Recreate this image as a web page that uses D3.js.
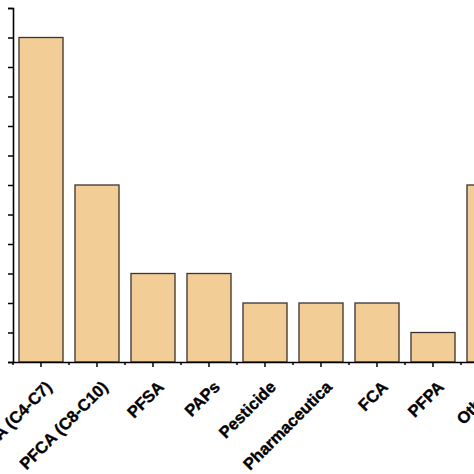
<!DOCTYPE html>
<html>
<head>
<meta charset="utf-8">
<script src="https://cdn.jsdelivr.net/npm/d3@7"></script>
<style>
  html, body { margin: 0; padding: 0; background: #fff; overflow: hidden; }
  svg { display: block; }
</style>
</head>
<body>
<svg id="chart"></svg>
<script>
// categories and counts
const categories = ["PFCA (C4-C7)", "PFCA (C8-C10)", "PFSA", "PAPs", "Pesticide", "Pharmaceutica", "FCA", "PFPA", "Others"]
const counts = [11, 6, 3, 3, 2, 2, 2, 1, 6]
const yTicks = [0, 2, 4, 6, 8, 10, 12]

const W = 474, H = 474
const x0 = 13, baseY = 362, topY = 8

const svg = d3.select('#chart').attr('width', W).attr('height', H)

// band scale, 56px per category, bar 44px wide
const x = d3.scaleBand().domain(categories).range([x0, x0 + 56 * categories.length]).paddingInner(0.214).paddingOuter(0.107)
const y = d3.scaleLinear().domain([0, 12]).range([baseY, topY])

// bars
svg.append('g')
  .selectAll('rect')
  .data(counts)
  .join('rect')
    .attr('x', (d, i) => x(categories[i]))
    .attr('y', d => y(d))
    .attr('width', x.bandwidth())
    .attr('height', d => baseY - y(d))
    .attr('fill', '#F2CD96')
    .attr('stroke', '#3a3330')
    .attr('stroke-width', 1.3)

// y axis (labels fall off the left edge like in the original)
const yAxis = svg.append('g')
  .attr('transform', `translate(${x0},0)`)
  .call(d3.axisLeft(y).tickValues(yTicks).tickSize(5).tickPadding(10).tickFormat(d3.format('d')))
yAxis.selectAll('text').style('font-family', 'Arial, "Liberation Sans", sans-serif').style('font-size', '16px').style('font-weight', 'bold').attr('fill', '#000')
yAxis.select('.domain').attr('stroke-width', 1.6)
yAxis.selectAll('.tick line').attr('stroke-width', 1.5)

// minor ticks on y
svg.append('g')
  .attr('transform', `translate(${x0},0)`)
  .call(d3.axisLeft(y).tickValues(d3.range(1, 12, 2)).tickSize(5).tickFormat(''))
  .call(g => g.select('.domain').remove())
  .selectAll('.tick line').attr('stroke-width', 1.5)

// x axis
const xAxis = svg.append('g')
  .attr('transform', `translate(0,${baseY})`)
  .call(d3.axisBottom(x).tickSize(5).tickSizeOuter(0))
xAxis.select('.domain').attr('d', `M${x0},0.5H${W + 20}`).attr('stroke-width', 1.6)
xAxis.selectAll('.tick line').attr('stroke-width', 1.5)
xAxis.selectAll('.tick text')
  .attr('y', 0).attr('dy', 0)
  .attr('transform', 'translate(12,26) rotate(-45)')
  .style('text-anchor', 'end')
  .style('font-family', 'Arial, "Liberation Sans", sans-serif')
  .style('font-size', '16.5px')
  .style('font-weight', 'bold')
  .attr('fill', '#000')
  .attr('stroke', '#000')
  .attr('stroke-width', 0.35)

// minor ticks between categories
const bounds = d3.range(categories.length + 1).map(i => x0 + 56 * i)
svg.append('g')
  .selectAll('line')
  .data(bounds)
  .join('line')
    .attr('x1', d => d).attr('x2', d => d)
    .attr('y1', baseY).attr('y2', baseY + 3)
    .attr('stroke', '#000')
    .attr('stroke-width', 1.5)
</script>
</body>
</html>
